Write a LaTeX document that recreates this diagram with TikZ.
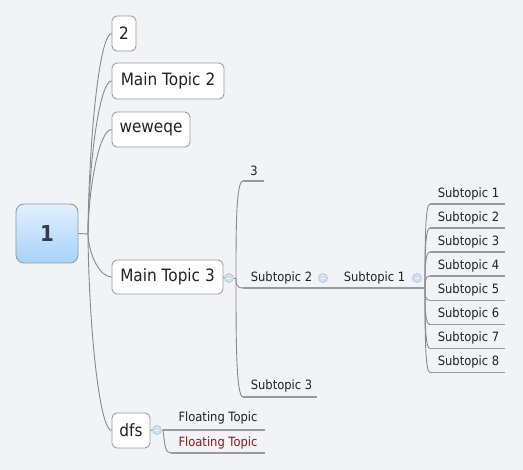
\documentclass[tikz,border=0pt]{standalone}
\usepackage{fontspec}
\newfontfamily\xm{DejaVu Sans}[FakeStretch=0.9]
\definecolor{bg}{HTML}{F2F3F7}
\definecolor{boxc}{HTML}{9C9C9C}
\definecolor{connc}{HTML}{8A8A8A}
\definecolor{ulc}{HTML}{9A9A9A}
\definecolor{txt}{HTML}{222222}
\definecolor{rtop}{HTML}{E2F0FD}
\definecolor{rbot}{HTML}{A6D2FB}
\definecolor{rbord}{HTML}{8E9BA8}
\definecolor{rtext}{HTML}{333D48}
\definecolor{mkf}{HTML}{CFE0F2}
\definecolor{mkb}{HTML}{A9C4E2}
\definecolor{mkl}{HTML}{F4F8FC}
\definecolor{ftred}{HTML}{8A1A1A}
\begin{document}
\begin{tikzpicture}[x=1pt,y=-1pt,
  box/.style={draw=boxc, fill=white, rounded corners=5pt, line width=0.9pt, inner sep=0pt,
    font=\xm\fontsize{17}{20}\selectfont, text=txt},
  sub/.style={inner sep=0pt, font=\xm\fontsize{12.8}{15}\selectfont, text=txt},
  uline/.style={draw=ulc, line width=1.6pt},
  conn/.style={draw=connc, line width=0.9pt},
  marker/.style={circle, draw=mkb, fill=mkf, minimum size=9pt, inner sep=0pt, line width=0.6pt,
    path picture={\draw[mkl, line width=0.9pt] ([xshift=2.3pt]path picture bounding box.west) -- ([xshift=-2.3pt]path picture bounding box.east);}}]
\fill[bg] (0,0) rectangle (523,470);
\useasboundingbox (0,0) rectangle (523,470);

% root
\node[draw=rbord, top color=rtop, bottom color=rbot, rounded corners=8pt, line width=0.9pt,
  minimum width=62pt, minimum height=59pt, inner sep=0pt, text=rtext,
  font=\xm\bfseries\fontsize{22}{24}\selectfont] (root) at (47,233.5) {1};
\coordinate (rj) at (88,234);
\draw[conn] (root.east) -- (rj);

% main topics
\node[box, minimum width=24pt, minimum height=35pt] (b2) at (124,33.5) {2};
\node[box, minimum width=112pt, minimum height=36pt] (mt2) at (168,81) {Main Topic 2};
\node[box, minimum width=78pt, minimum height=35pt] (we) at (151,129.5) {weweqe};
\node[box, minimum width=111pt, minimum height=34pt] (mt3) at (167.5,277) {Main Topic 3};
\node[box, minimum width=38pt, minimum height=35pt] (dfs) at (131,430.5) {dfs};

\draw[conn] (rj) .. controls (89,133.75) and (100,33.5) .. (b2.west);
\draw[conn] (rj) .. controls (89,157.5) and (100,81) .. (mt2.west);
\draw[conn] (rj) .. controls (89,181.75) and (100,129.5) .. (we.west);
\draw[conn] (rj) .. controls (89,255.5) and (100,277) .. (mt3.west);
\draw[conn] (rj) .. controls (89,332.25) and (100,430.5) .. (dfs.west);

% Main Topic 3 branch
\node[marker] (m3) at (229,278) {};
\coordinate (j3) at (236,278);
\draw[conn] (mt3.east) -- (m3.west);
\draw[conn] (m3.east) -- (j3);

\node[sub] (t3) at (254,171) {3};
\coordinate (t3a) at (243,181); \coordinate (t3b) at (264,181);
\draw[uline] (t3a) -- (t3b);

\node[sub] (s2) at (281.5,278) {Subtopic 2};
\coordinate (s2a) at (243,288); \coordinate (s2b) at (332,288);
\draw[uline] (s2a) -- (s2b);
\node[marker] (m2) at (323,278) {};

\node[sub] (s1) at (374.5,278) {Subtopic 1};
\coordinate (s1a) at (340,288); \coordinate (s1b) at (425,288);
\draw[uline] (s1a) -- (s1b);
\draw[uline] (s2b) -- (s1a);
\node[marker] (m1) at (417,278) {};

\node[sub] (s3) at (281.5,386) {Subtopic 3};
\coordinate (s3a) at (243,397); \coordinate (s3b) at (317,397);
\draw[uline] (s3a) -- (s3b);

\draw[conn] (j3) .. controls (236,229.5) and (236,181) .. (t3a);
\draw[conn] (j3) .. controls (236,283) and (236,288) .. (s2a);
\draw[conn] (j3) .. controls (236,337.5) and (236,397) .. (s3a);

% Subtopic 1 children
\foreach \k/\yy in {1/204,2/228,3/252,4/276,5/300.5,6/324.5,7/348.5,8/372.5}{
  \node[sub] (c\k) at (468.5,\yy-10.5) {Subtopic \k};
  \coordinate (c\k a) at (430,\yy);
  \coordinate (c\k b) at (505,\yy);
  \draw[uline] (c\k a) -- (c\k b);
  \draw[conn] (s1b) .. controls (425,{(288+\yy)/2}) and (425,\yy) .. (c\k a);
}

% dfs branch
\node[marker] (md) at (157,430) {};
\draw[conn] (dfs.east) -- (md.west);
\node[sub] (f1) at (218,418) {Floating Topic};
\coordinate (f1a) at (163,430); \coordinate (f1b) at (265,430);
\draw[conn] (md.east) -- (f1a);
\draw[uline] (f1a) -- (f1b);
\node[sub, text=ftred] (f2) at (218,443) {Floating Topic};
\coordinate (f2a) at (171,453); \coordinate (f2b) at (265,453);
\draw[uline] (f2a) -- (f2b);
\draw[conn] (f1a) .. controls (165,446) and (165,453) .. (f2a);
\end{tikzpicture}
\end{document}
